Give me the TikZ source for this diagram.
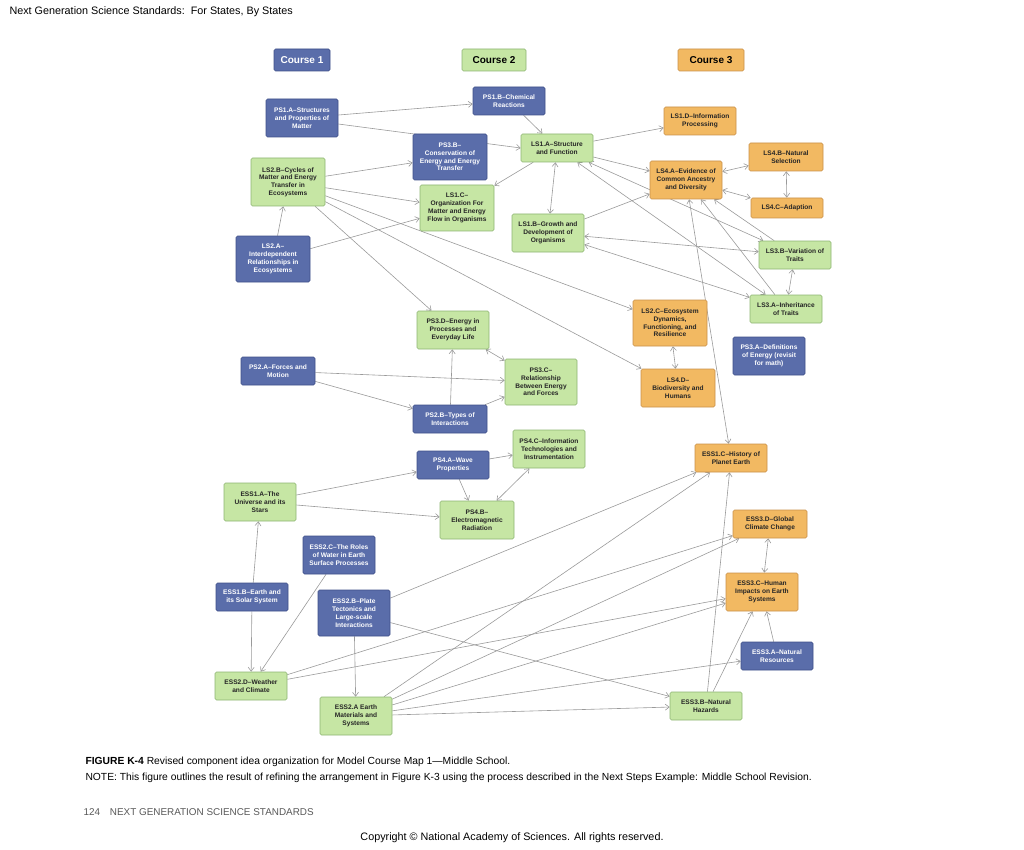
\documentclass[tikz,border=0pt]{standalone}
\usepackage{fontspec}
\setmainfont{Liberation Sans}
\usetikzlibrary{arrows.meta}
\pgfdeclarelayer{bg}
\pgfsetlayers{bg,main}
\definecolor{bfill}{HTML}{5A6DAA}
\definecolor{bdraw}{HTML}{3E4F88}
\definecolor{gfill}{HTML}{C6E6A4}
\definecolor{gdraw}{HTML}{8DB472}
\definecolor{ofill}{HTML}{F2B962}
\definecolor{odraw}{HTML}{C8904A}
\definecolor{edgec}{HTML}{9A9A9A}
\tikzset{
 box/.style={rounded corners=1.5pt, line width=0.6pt, align=center, inner sep=1pt,
   font=\fontsize{6.6}{7.8}\selectfont\bfseries, minimum height=28pt},
 bl/.style={box, fill=bfill, draw=bdraw, text=white},
 gr/.style={box, fill=gfill, draw=gdraw, text=black!85},
 or/.style={box, fill=ofill, draw=odraw, text=black!85},
 hd/.style={box, font=\fontsize{10}{11}\selectfont\bfseries, minimum height=22pt},
 w/.style={minimum width=#1pt},
 e/.style={draw=edgec, line width=0.6pt, -{Straight Barb[length=4pt,width=6pt]}},
 ee/.style={draw=edgec, line width=0.6pt, {Straight Barb[length=4pt,width=6pt]}-{Straight Barb[length=4pt,width=6pt]}},
}
\begin{document}
\begin{tikzpicture}[x=1pt,y=-1pt]
\useasboundingbox (0,0) rectangle (1024,850);
\node[anchor=west, font=\fontsize{10.8}{12}\selectfont] (title) at (6,12) {Next Generation Science Standards:\ \ For States, By States};
% headers
\node[hd, fill=bfill, draw=bdraw, text=white, w=56] (c1) at (302,60) {Course 1};
\node[hd, fill=gfill, draw=gdraw, w=64] (c2) at (494,60) {Course 2};
\node[hd, fill=ofill, draw=odraw, w=66] (c3) at (711,60) {Course 3};
% nodes
\node[bl,w=72,minimum height=38pt] (PS1A) at (302,118) {PS1.A--Structures\\and Properties of\\Matter};
\node[bl,w=72] (PS1B) at (509,101) {PS1.B--Chemical\\Reactions};
\node[bl,w=74,minimum height=46pt] (PS3B) at (450,157) {PS3.B--\\Conservation of\\Energy and Energy\\Transfer};
\node[gr,w=72] (LS1A) at (557,148) {LS1.A--Structure\\and Function};
\node[or,w=72] (LS1D) at (700,121) {LS1.D--Information\\Processing};
\node[gr,w=74,minimum height=48pt] (LS2B) at (288,182) {LS2.B--Cycles of\\Matter and Energy\\Transfer in\\Ecosystems};
\node[gr,w=74,minimum height=46pt] (LS1C) at (457,208) {LS1.C--\\Organization For\\Matter and Energy\\Flow in Organisms};
\node[or,w=72,minimum height=38pt] (LS4A) at (686,180) {LS4.A--Evidence of\\Common Ancestry\\and Diversity};
\node[or,w=74] (LS4B) at (786,157) {LS4.B--Natural\\Selection};
\node[or,w=72,minimum height=20pt] (LS4C) at (787,208) {LS4.C--Adaption};
\node[gr,w=72,minimum height=38pt] (LS1B) at (548,233) {LS1.B--Growth and\\Development of\\Organisms};
\node[bl,w=74,minimum height=46pt] (LS2A) at (273,259) {LS2.A--\\Interdependent\\Relationships in\\Ecosystems};
\node[gr,w=72] (LS3B) at (795,255) {LS3.B--Variation of\\Traits};
\node[gr,w=72] (LS3A) at (786,309) {LS3.A--Inheritance\\of Traits};
\node[or,w=74,minimum height=46pt] (LS2C) at (670,323) {LS2.C--Ecosystem\\Dynamics,\\Functioning, and\\Resilience};
\node[gr,w=72,minimum height=38pt] (PS3D) at (453,330) {PS3.D--Energy in\\Processes and\\Everyday Life};
\node[bl,w=72,minimum height=38pt] (PS3A) at (769,356) {PS3.A--Definitions\\of Energy (revisit\\for math)};
\node[bl,w=74] (PS2A) at (278,371) {PS2.A--Forces and\\Motion};
\node[gr,w=72,minimum height=46pt] (PS3C) at (541,382) {PS3.C--\\Relationship\\Between Energy\\and Forces};
\node[or,w=74,minimum height=38pt] (LS4D) at (678,388) {LS4.D--\\Biodiversity and\\Humans};
\node[bl,w=74] (PS2B) at (450,419) {PS2.B--Types of\\Interactions};
\node[gr,w=72,minimum height=38pt] (PS4C) at (549,449) {PS4.C--Information\\Technologies and\\Instrumentation};
\node[bl,w=72] (PS4A) at (453,465) {PS4.A--Wave\\Properties};
\node[or,w=72] (ESS1C) at (731,458) {ESS1.C--History of\\Planet Earth};
\node[gr,w=72,minimum height=38pt] (ESS1A) at (260,502) {ESS1.A--The\\Universe and its\\Stars};
\node[gr,w=74,minimum height=38pt] (PS4B) at (477,520) {PS4.B--\\Electromagnetic\\Radiation};
\node[or,w=74] (ESS3D) at (770,524) {ESS3.D--Global\\Climate Change};
\node[bl,w=72,minimum height=38pt] (ESS2C) at (339,555) {ESS2.C--The Roles\\of Water in Earth\\Surface Processes};
\node[bl,w=72] (ESS1B) at (252,597) {ESS1.B--Earth and\\its Solar System};
\node[or,w=72,minimum height=38pt] (ESS3C) at (762,592) {ESS3.C--Human\\Impacts on Earth\\Systems};
\node[bl,w=72,minimum height=46pt] (ESS2B) at (354,613) {ESS2.B--Plate\\Tectonics and\\Large-scale\\Interactions};
\node[bl,w=72] (ESS3A) at (777,656) {ESS3.A--Natural\\Resources};
\node[gr,w=72] (ESS2D) at (251,686) {ESS2.D--Weather\\and Climate};
\node[gr,w=72] (ESS3B) at (706,706) {ESS3.B--Natural\\Hazards};
\node[gr,w=72,minimum height=38pt] (ESS2A) at (356,716) {ESS2.A Earth\\Materials and\\Systems};
% edges
\begin{pgfonlayer}{bg}
\draw[e] (PS1A) -- (PS1B);
\draw[e] ([yshift=-6pt]PS1A.east) -- (LS1A.west);
\draw[e] (PS1B) -- (LS1A);
\draw[e] (LS2B) -- (PS3B);
\draw[e] (LS2B) -- (LS1C);
\draw[e] (LS2A) -- (LS1C);
\draw[e] (LS2A) -- (LS2B);
\draw[e] (LS1A) -- (LS1C);
\draw[ee] (LS1A) -- (LS1B);
\draw[e] (LS1A) -- (LS1D);
\draw[e] (LS1A) -- (LS4A);
\draw[e] (LS1B) -- (LS4A);
\draw[ee] (LS4A) -- (LS4B);
\draw[ee] (LS4A) -- (LS4C);
\draw[ee] (LS4B) -- (LS4C);
\draw[ee] (LS1B) -- (LS3B);
\draw[ee] (LS1B) -- (LS3A);
\draw[ee] (LS3B) -- (LS3A);
\draw[e] (LS3B) -- (LS4A);
\draw[e] (LS3A) -- (LS4A);
\draw[ee] (LS1A) -- (LS3A);
\draw[ee] (LS1A) -- (LS3B);
\draw[ee] (LS4A) -- (ESS1C);
\draw[e] (LS2B) -- (LS2C);
\draw[e] (LS2B) -- (LS4D);
\draw[e] (LS2B) -- (PS3D);
\draw[ee] (LS2C) -- (LS4D);
\draw[ee] (PS3D) -- (PS3C);
\draw[e] (PS2A) -- (PS3C);
\draw[e] (PS2A) -- (PS2B);
\draw[e] (PS2B) -- (PS3D);
\draw[e] (PS2B) -- (PS3C);
\draw[e] (PS4A) -- (PS4C);
\draw[e] (PS4A) -- (PS4B);
\draw[ee] (PS4C) -- (PS4B);
\draw[e] (ESS1A) -- (PS4A);
\draw[e] (ESS1A) -- (PS4B);
\draw[e] (ESS1B) -- (ESS1A);
\draw[e] (ESS1B) -- (ESS2D);
\draw[e] (ESS2C) -- (ESS2D);
\draw[e] (ESS2B) -- (ESS1C);
\draw[e] (ESS2B) -- (ESS2A);
\draw[e] (ESS2B) -- (ESS3B);
\draw[e] (ESS2D) -- (ESS3D);
\draw[e] (ESS2D) -- (ESS3C);
\draw[e] (ESS2A) -- (ESS1C);
\draw[e] (ESS2A) -- (ESS3D);
\draw[e] (ESS2A) -- (ESS3C);
\draw[e] (ESS2A) -- (ESS3A);
\draw[e] (ESS2A) -- (ESS3B);
\draw[e] (ESS3B) -- (ESS1C);
\draw[e] (ESS3B) -- (ESS3C);
\draw[e] (ESS3A) -- (ESS3C);
\draw[ee] (ESS3D) -- (ESS3C);
\end{pgfonlayer}
% caption
\node[anchor=west, font=\fontsize{10.3}{12}\selectfont] (cap1) at (82,762) {\textbf{FIGURE K-4} Revised component idea organization for Model Course Map 1---Middle School.};
\node[anchor=west, font=\fontsize{10.3}{12}\selectfont] (cap2) at (82,778) {NOTE: This figure outlines the result of refining the arrangement in Figure K-3 using the process described in the Next Steps Example: Middle School Revision.};
\node[anchor=west, font=\fontsize{9.9}{11}\selectfont, text=black!65] (pg) at (80,812) {124\quad NEXT GENERATION SCIENCE STANDARDS};
\node[font=\fontsize{10.8}{12}\selectfont] (copy) at (512,838) {Copyright \textcopyright{} National Academy of Sciences. All rights reserved.};
\end{tikzpicture}
\end{document}
